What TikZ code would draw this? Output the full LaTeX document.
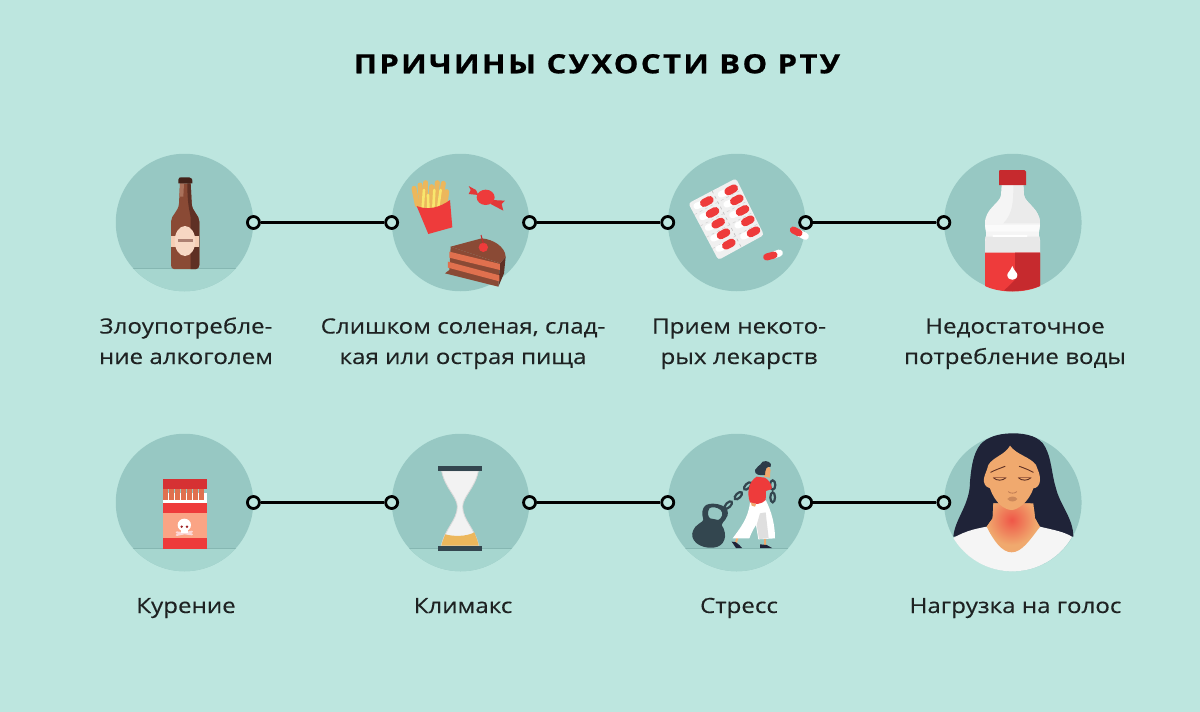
\documentclass[tikz,border=0pt]{standalone}
\usepackage{fontspec}
\setmainfont{Open Sans}[FakeStretch=1.15,FakeBold=0.25]
\newfontfamily\titlefont[LetterSpace=9,FakeStretch=1.17,BoldFeatures={FakeBold=0.8}]{Open Sans}
\usetikzlibrary{positioning}
\definecolor{bgc}{HTML}{BDE6DF}
\definecolor{discc}{HTML}{97C8C3}
\definecolor{floorc}{HTML}{A6D6CF}
\definecolor{linec}{HTML}{86B7B2}
\definecolor{redc}{HTML}{EE3B3B}
\definecolor{redd}{HTML}{C62A2E}
\definecolor{brownc}{HTML}{8A4A35}
\definecolor{brownd}{HTML}{5F3024}
\definecolor{creamc}{HTML}{F5CDB4}
\definecolor{cakec}{HTML}{E0704E}
\definecolor{navyc}{HTML}{33464F}
\definecolor{hairc}{HTML}{1F2338}
\definecolor{skinc}{HTML}{F0A96E}
\definecolor{sandc}{HTML}{ECB75C}
\definecolor{inkc}{HTML}{1E2222}
\begin{document}
\begin{tikzpicture}[x=1pt,y=-1pt,node distance=138.2pt,
  disc/.style={circle,fill=discc,inner sep=0pt,minimum size=137.5pt},
  port/.style={circle,draw=black,line width=2.8pt,fill=bgc,inner sep=0pt,minimum size=12pt},
  link/.style={line width=2.6pt,black},
  lbl/.style={align=center,anchor=base,inner sep=0pt,text=inkc,font=\fontsize{21}{30.5}\selectfont},
  zoomtl/.style={shift={(100,140)},scale=1/3},
  zoomtr/.style={shift={(650,140)},scale=1/3},
  zoombl/.style={shift={(100,425)},scale=1/3},
  zoombr/.style={shift={(650,425)},scale=1/3}]
  \useasboundingbox (0,0) rectangle (1200,712);
  \fill[bgc] (0,0) rectangle (1200,712);
  \node[anchor=base,inner sep=0pt,font=\titlefont\fontsize{26.5}{32}\selectfont\bfseries] (title) at (597,73.3) {ПРИЧИНЫ СУХОСТИ ВО РТУ};

  \node[disc] (a1) at (184.5,222.5) {};
  \node[disc] (a2) [right=of a1] {};
  \node[disc] (a3) [right=of a2] {};
  \node[disc] (a4) [right=of a3] {};
  \node[disc] (b1) at (184.5,502.5) {};
  \node[disc] (b2) [right=of b1] {};
  \node[disc] (b3) [right=of b2] {};
  \node[disc] (b4) [right=of b3] {};

  \foreach \d/\fy in {a1/268,b1/548,b2/548,b3/548} {
    \begin{scope}
      \clip (\d.center) circle (68.75);
      \fill[floorc] (0,\fy) rectangle (1200,600);
      \draw[linec,line width=1pt] (0,\fy) -- (1200,\fy);
    \end{scope}
  }

  % beer
  \begin{scope}[zoomtl]
    \fill[brownc] (240,130) -- (272,130) -- (275,190) .. controls (276,215) and (298,225) .. (298,245) -- (298,375) .. controls (298,383) and (292,387) .. (288,387) -- (222,387) .. controls (216,387) and (213,383) .. (213,375) -- (213,245) .. controls (213,225) and (236,215) .. (237,190) -- cycle;
    \fill[brownd] (262,130) -- (272,130) -- (275,190) .. controls (276,215) and (298,225) .. (298,245) -- (298,375) .. controls (298,383) and (292,387) .. (288,387) -- (272,387) -- (272,240) .. controls (272,215) and (262,210) .. cycle;
    \fill[brownc!70!creamc] (240,130) -- (252,130) -- (250,170) -- (238,170) -- cycle;
    \fill[brownd!70!black] (235,119) .. controls (235,112) and (240,112) .. (245,112) -- (268,112) .. controls (277,112) and (277,118) .. (277,130) -- (235,130) -- cycle;
    \fill[creamc] (213,288) rectangle (298,322);
    \fill[creamc!80!white] (255,303) ellipse (31 and 45);
    \fill[brownc!70!white] (235,298) rectangle (280,305);
  \end{scope}

  % food
  \begin{scope}[zoomtl]
    \foreach \fa/\fb/\fc/\fd in {952/195/942/145,965/200/960/135,978/205/978/128,990/205/995/140,1005/205/1012/128,1020/195/1030/130,1035/195/1040/155} {
      \draw[sandc,line width=5pt,line cap=round] (\fa,\fb) -- (\fc,\fd);
    }
    \foreach \fa/\fb/\fc/\fd in {968/205/972/150,985/205/984/165,1000/205/1003/150,1015/200/1022/150} {
      \draw[sandc!50!yellow!70!white,line width=2.6pt,line cap=round] (\fa,\fb) -- (\fc,\fd);
    }
    \fill[redc] (950,198) .. controls (985,212) and (1020,202) .. (1050,180) -- (1057,262) -- (985,282) -- cycle;
    \fill[redc!95!black] (1128,150) -- (1106,138) -- (1112,150) -- (1106,162) -- (1135,165) -- cycle;
    \fill[redc!95!black] (1175,180) -- (1215,182) -- (1205,192) -- (1210,212) -- (1172,192) -- cycle;
    \fill[redc] (1157,172) ellipse (27 and 23);
    \fill[brownc] (1052,320) -- (1200,370) -- (1195,440) -- (1035,400) -- (1048,390) -- cycle;
    \fill[brownd] (1217,350) -- (1212,400) -- (1195,440) -- (1200,370) -- cycle;
    \fill[brownc] (1052,320) -- (1145,295) .. controls (1180,298) and (1215,320) .. (1217,350) -- (1200,370) -- cycle;
    \foreach \sa/\sb/\sc/\sd in {1048/335/1200/372,1044/365/1198/406} {
      \fill[cakec] (\sa,\sb) -- (\sc,\sd) -- (\sc,\sd+18) -- (\sa,\sb+18) -- cycle;
    }
    \fill[redc] (1150,322) circle (14);
    \draw[redd,line width=1pt] (1150,310) -- (1143,285);
  \end{scope}

  % pills
  \begin{scope}[zoomtr]
    \fill[gray!12!white,rounded corners=3pt] (115,190) -- (258,115) -- (342,285) -- (205,360) -- cycle;
    \draw[gray!50!white,dashed,line width=.6pt] (186,152) -- (274,322);
    \foreach \ra/\rb/\rc/\rd in {133/224/275/149,151/258/292/183,169/292/308/217,187/326/325/251} {
      \draw[gray!35!white,dashed,line width=.5pt] (\ra,\rb) -- (\rc,\rd);
    }
    \foreach \hx/\hy in {170/185,187/218,204/250,220/282,236/313,243/150,260/180,277/212,293/243,310/276} {
      \draw[white,line width=6.5pt,line cap=round] (\hx-30,\hy+13) -- (\hx-10,\hy+5);
      \draw[redc,line width=8pt,line cap=round] (\hx-8,\hy+4) -- (\hx+9,\hy-5);
    }
    \draw[white,line width=7pt,line cap=round] (447,279) -- (466,289);
    \draw[redc,line width=7pt,line cap=round] (430,270) -- (447,279);
    \draw[white,line width=7pt,line cap=round] (372,345) -- (388,339);
    \draw[redc,line width=7pt,line cap=round] (350,351) -- (372,345);
  \end{scope}

  % water
  \begin{scope}[zoomtr]
    \fill[gray!8!white] (1055,135) -- (1120,135) -- (1122,165) .. controls (1125,190) and (1170,205) .. (1170,250) .. controls (1170,270) and (1162,280) .. (1170,300) -- (1170,340) -- (1005,340) -- (1005,300) .. controls (1013,280) and (1005,270) .. (1005,250) .. controls (1005,205) and (1050,190) .. (1053,165) -- cycle;
    \fill[gray!16!white] (1090,135) -- (1120,135) -- (1122,165) .. controls (1125,190) and (1170,205) .. (1170,250) -- (1060,250) .. controls (1090,220) and (1090,180) .. cycle;
    \fill[gray!18!white] (1006,290) -- (1169,290) -- (1170,340) -- (1005,340) -- cycle;
    \draw[white,line width=2pt,line cap=round] (1030,288) -- (1130,288);
    \fill[gray!3!white] (1005,255) -- (1170,255) -- (1167,275) -- (1008,275) -- cycle;
    \fill[redd] (1047,95) .. controls (1047,90) and (1050,90) .. (1052,90) -- (1123,90) .. controls (1126,90) and (1128,92) .. (1128,95) -- (1128,135) -- (1047,135) -- cycle;
    \fill[redc] (1005,338) -- (1170,338) -- (1170,438) .. controls (1125,460) and (1050,460) .. (1005,438) -- cycle;
    \fill[redd] (1095,338) -- (1170,338) -- (1170,438) .. controls (1140,450) and (1100,456) .. (1062,452) -- (1095,420) -- cycle;
    \fill[white] (1087,378) .. controls (1092,392) and (1102,398) .. (1102,405) .. controls (1102,424) and (1072,424) .. (1072,405) .. controls (1072,398) and (1082,392) .. cycle;
  \end{scope}

  % cigarettes
  \begin{scope}[zoombl]
    \fill[white] (188,205) rectangle (321,235);
    \foreach \cx in {190,208,...,298} {
      \fill[cakec] (\cx,192) rectangle (\cx+14,225);
    }
    \fill[redc] (188,235) rectangle (321,372);
    \fill[redc!55!orange!55!white] (188,265) rectangle (321,340);
    \fill[redd!60!redc] (188,162) rectangle (321,192);
    \draw[white!80!redc,line width=2pt,line cap=round] (230,322) -- (276,328) (276,320) -- (230,330);
    \fill[white] (253,300) ellipse (20 and 19);
    \fill[white] (243,310) rectangle (263,325);
    \fill[redd!80!black] (245,305) circle (4) (261,305) circle (4);
  \end{scope}

  % hourglass
  \begin{scope}[zoombl]
    \fill[gray!10!white,draw=gray!30!white,line width=.8pt] (1025,138) -- (1135,138) .. controls (1125,190) and (1088,215) .. (1088,245) .. controls (1088,285) and (1125,310) .. (1136,362) -- (1024,362) .. controls (1035,310) and (1072,285) .. (1072,245) .. controls (1072,215) and (1035,190) .. cycle;
    \fill[sandc] (1036,328) .. controls (1060,335) and (1100,335) .. (1123,322) .. controls (1130,340) and (1134,350) .. (1136,362) -- (1024,362) .. controls (1027,350) and (1031,340) .. cycle;
    \fill[navyc] (1015,122) rectangle (1145,138);
    \fill[navyc] (1015,362) rectangle (1145,378);
  \end{scope}

  % stress
  \begin{scope}[zoombr]
    \fill[navyc,even odd rule] (168,240) .. controls (190,230) and (225,240) .. (232,255) .. controls (240,280) and (215,290) .. (215,300) .. controls (235,330) and (225,365) .. (190,368) .. controls (150,372) and (115,345) .. (130,315) .. controls (135,300) and (160,290) .. (160,285) .. controls (155,265) and (155,250) .. (168,240) -- cycle (178,250) .. controls (170,265) and (175,275) .. (180,280) -- (205,285) .. controls (215,280) and (222,265) .. (212,255) .. controls (200,245) and (185,245) .. cycle;
    \foreach \kx/\ky in {235/240,265/212,293/183} {
      \draw[navyc,line width=2.2pt,shift={(\kx,\ky)},rotate=45] (0,0) ellipse (14 and 7);
    }
    \draw[navyc,line width=2.2pt] (368,217) ellipse (7 and 15);
    \draw[navyc,line width=2.2pt] (368,180) ellipse (8 and 14);
    \draw[skinc,line width=2pt] (262,338) -- (258,353) (345,340) -- (345,360);
    \fill[white] (300,232) -- (347,225) .. controls (365,260) and (375,300) .. (375,340) -- (325,343) -- (318,300) .. controls (305,320) and (300,335) .. (298,340) -- (248,340) .. controls (270,310) and (295,280) .. cycle;
    \fill[gray!25!white] (330,265) -- (347,262) -- (356,340) -- (327,342) -- (320,300) -- cycle;
    \fill[redc] (320,155) -- (345,158) .. controls (358,165) and (368,185) .. (365,192) -- (348,198) -- (347,225) .. controls (335,238) and (315,240) .. (300,232) .. controls (290,205) and (295,170) .. cycle;
    \fill[skinc] (303,232) -- (318,238) -- (315,245) -- (305,242) -- cycle;
    \fill[skinc] (342,125) .. controls (356,118) and (366,130) .. (360,148) -- (360,158) -- (342,155) -- cycle;
    \fill[navyc!70!hairc] (338,110) .. controls (350,105) and (368,112) .. (362,126) .. controls (350,120) and (345,135) .. (345,150) .. controls (330,152) and (312,150) .. (315,135) .. controls (318,125) and (328,125) .. cycle;
    \fill[hairc] (245,350) .. controls (255,348) and (258,352) .. (268,360) -- (276,369) -- (258,369) -- cycle;
    \fill[hairc] (330,358) -- (350,360) -- (366,369) -- (330,369) -- cycle;
  \end{scope}

  % voice
  \begin{scope}[zoombr]
    \fill[hairc] (1090,25) .. controls (1130,25) and (1170,35) .. (1185,65) .. controls (1205,100) and (1205,150) .. (1218,190) .. controls (1230,240) and (1270,280) .. (1270,335) -- (910,335) .. controls (915,280) and (960,240) .. (960,170) .. controls (965,110) and (975,70) .. (1000,50) .. controls (1025,30) and (1060,25) .. cycle;
    \begin{scope}
      \clip (1087,232.5) circle (206.5);
      \fill[gray!8!white] (908,340) .. controls (950,315) and (985,310) .. (1010,305) -- (1085,382) -- (1170,305) .. controls (1210,315) and (1245,320) .. (1270,338) -- (1300,480) -- (880,480) -- cycle;
    \end{scope}
    \begin{scope}
      \clip (1030,235) -- (1150,235) -- (1155,280) -- (1170,305) .. controls (1140,345) and (1115,382) .. (1085,382) .. controls (1055,382) and (1030,345) .. (1010,305) -- (1028,280) -- cycle;
      \fill[skinc] (1000,230) rectangle (1175,390);
      \path[inner color=redc!75!skinc,outer color=skinc] (1085,285) circle (75);
    \end{scope}
    \fill[skinc] (1080,62) .. controls (1100,90) and (1140,95) .. (1158,120) .. controls (1165,140) and (1170,145) .. (1170,165) .. controls (1170,180) and (1160,190) .. (1150,190) .. controls (1135,235) and (1100,255) .. (1085,255) .. controls (1065,255) and (1035,235) .. (1020,190) .. controls (1005,185) and (1000,175) .. (1002,160) .. controls (1005,145) and (1010,140) .. (1015,120) .. controls (1030,95) and (1065,90) .. cycle;
    \draw[brownd,line width=.9pt,line cap=round] (1022,142) .. controls (1035,135) and (1050,130) .. (1065,124) (1150,142) .. controls (1137,135) and (1125,130) .. (1108,124);
    \draw[brownd,line width=.9pt,line cap=round] (1030,158) .. controls (1040,168) and (1058,168) .. (1068,158) (1105,158) .. controls (1115,168) and (1133,168) .. (1143,158);
    \draw[brownc!70!skinc,line width=.7pt] (1030,158) -- (1068,158) (1105,158) -- (1143,158);
    \draw[brownc!50!skinc,line width=.8pt,line cap=round] (1075,200) .. controls (1080,206) and (1095,206) .. (1100,200);
    \fill[brownc!35!skinc] (1072,222) .. controls (1080,212) and (1095,212) .. (1102,222) .. controls (1095,232) and (1080,232) .. cycle;
  \end{scope}

  \node[port] (a1e) at (a1.east) {};
  \node[port] (a2w) at (a2.west) {};
  \node[port] (a2e) at (a2.east) {};
  \node[port] (a3w) at (a3.west) {};
  \node[port] (a3e) at (a3.east) {};
  \node[port] (a4w) at (a4.west) {};
  \node[port] (b1e) at (b1.east) {};
  \node[port] (b2w) at (b2.west) {};
  \node[port] (b2e) at (b2.east) {};
  \node[port] (b3w) at (b3.west) {};
  \node[port] (b3e) at (b3.east) {};
  \node[port] (b4w) at (b4.west) {};
  \draw[link] (a1e) -- (a2w);
  \draw[link] (a2e) -- (a3w);
  \draw[link] (a3e) -- (a4w);
  \draw[link] (b1e) -- (b2w);
  \draw[link] (b2e) -- (b3w);
  \draw[link] (b3e) -- (b4w);

  \node[lbl] (t1) at (186,364) {Злоупотребле-\\ние алкоголем};
  \node[lbl] (t2) at (463,364) {Слишком соленая, слад-\\кая или острая пища};
  \node[lbl] (t3) at (739,364) {Прием некото-\\рых лекарств};
  \node[lbl] (t4) at (1015,364) {Недостаточное\\потребление воды};
  \node[lbl] (t5) at (186,613) {Курение};
  \node[lbl] (t6) at (463,613) {Климакс};
  \node[lbl] (t7) at (739,613) {Стресс};
  \node[lbl] (t8) at (1015.5,613) {Нагрузка на голос};
\end{tikzpicture}
\end{document}
